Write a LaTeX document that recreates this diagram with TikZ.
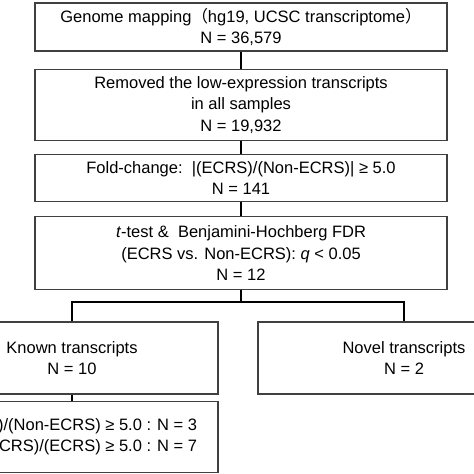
\documentclass[tikz,border=0pt]{standalone}
\usepackage{fontspec}
\setmainfont{Liberation Sans}
\newfontfamily\cjk{Noto Sans CJK JP}
\usetikzlibrary{positioning}
\tikzset{
  stage/.style={rectangle, draw=black!75, line width=1.2pt, fill=white,
    align=center, inner sep=2pt, minimum width=412pt,
    font=\fontsize{16.5}{21.5}\selectfont},
  branch/.style={stage, minimum width=292pt, minimum height=72pt},
  link/.style={line width=2.6pt, draw=black},
}

\begin{document}
\begin{tikzpicture}[x=1pt, y=-1pt]
  \useasboundingbox (0,0) rectangle (474,474);
  \clip (0,0) rectangle (474,474);
  % filtering steps
  \node[stage, minimum height=48pt] (map) at (241,27)
    {Genome mapping{\cjk（}hg19, UCSC transcriptome{\cjk）}\\N = 36,579};
  \node[stage, minimum height=71pt, below=17pt of map] (lowexp)
    {Removed the low-expression transcripts\\in all samples\\N = 19,932};
  \node[stage, minimum height=47pt, below=13pt of lowexp] (fold)
    {Fold-change:\ \ |(ECRS)/(Non-ECRS)| ≥ 5.0\\N = 141};
  \node[stage, minimum height=73pt, below=14pt of fold] (ttest)
    {\textit{t}-test \&\ \ Benjamini-Hochberg FDR\\(ECRS vs. Non-ECRS): \textit{q} < 0.05\\N = 12};
  \coordinate (split) at (241,302);
  % branches
  \node[branch] (known) at (72,358) {Known transcripts\\N = 10};
  \node[branch] (novel) at (404,358) {Novel transcripts\\N = 2};
  \node[branch, minimum height=71pt, below=6pt of known] (ratio)
    {(ECRS)/(Non-ECRS) ≥ 5.0 : N = 3\\(Non-ECRS)/(ECRS) ≥ 5.0 : N = 7};

  \draw[link] (map) -- (lowexp);
  \draw[link] (lowexp) -- (fold);
  \draw[link] (fold) -- (ttest);
  \draw[link] (ttest) -- (split);
  \draw[link] (known.north) |- (split) -| (novel.north);
  \draw[link] (known) -- (ratio);
\end{tikzpicture}
\end{document}
